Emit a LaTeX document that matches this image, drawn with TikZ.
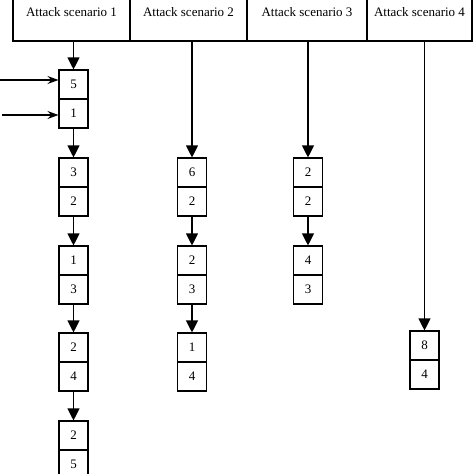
\documentclass[tikz,border=0pt]{standalone}
\usepackage{fontspec}
\setmainfont{Liberation Serif}
\usepackage{tikz}
\usetikzlibrary{arrows,arrows.meta,shapes,positioning}
\tikzstyle{head} = [rectangle, minimum height=58pt, text centered, draw, line width=1.1pt, inner sep=0pt]
\tikzstyle{cell} = [rectangle, minimum width=29pt, minimum height=29pt, text centered, draw, line width=1.1pt, inner sep=0pt]
\tikzstyle{arrow} = [line width=1.1pt,-{Triangle[length=12pt,width=12pt]}]
\tikzstyle{inarrow} = [line width=1.1pt,-{Stealth[length=11pt,width=8pt,inset=4pt]}]

\begin{document}
\begin{tikzpicture}[x=1pt,y=-1pt,font=\fontsize{13}{15}\selectfont]
\useasboundingbox (0,0) rectangle (474,474);
% scenario headers
\node[head, minimum width=117pt] (h1) at (71.5,12) {Attack scenario 1};
\node[head, minimum width=117pt] (h2) at (188.5,12) {Attack scenario 2};
\node[head, minimum width=120pt] (h3) at (307,12) {Attack scenario 3};
\node[head, minimum width=105pt] (h4) at (419.5,12) {Attack scenario 4};

% scenario 1
\node[cell] (a1) at (73.5,84.5) {5};
\node[cell] (b1) at (73.5,113.5) {1};
\node[cell] (a2) at (73.5,172.5) {3};
\node[cell] (b2) at (73.5,201.5) {2};
\node[cell] (a3) at (73.5,260.5) {1};
\node[cell] (b3) at (73.5,289.5) {3};
\node[cell] (a4) at (73.5,347.5) {2};
\node[cell] (b4) at (73.5,376.5) {4};
\node[cell] (a5) at (73.5,435.5) {2};
\node[cell] (b5) at (73.5,464.5) {5};

% scenario 2
\node[cell] (c2) at (192,172.5) {6};
\node[cell] (d2) at (192,201.5) {2};
\node[cell] (c3) at (192,260.5) {2};
\node[cell] (d3) at (192,289.5) {3};
\node[cell] (c4) at (192,347.5) {1};
\node[cell] (d4) at (192,376.5) {4};

% scenario 3
\node[cell] (e2) at (308,172.5) {2};
\node[cell] (f2) at (308,201.5) {2};
\node[cell] (e3) at (308,260.5) {4};
\node[cell] (f3) at (308,289.5) {3};

% scenario 4
\node[cell] (g4) at (424.5,345.5) {8};
\node[cell] (k4) at (424.5,374.5) {4};

% inputs
\coordinate (in1) at (0,80);
\coordinate (in2) at (2,115);
\draw[inarrow] (in1) -- (in1 -| a1.west);
\draw[inarrow] (in2) -- (in2 -| b1.west);

\draw[arrow] (h1.south -| a1) -- (a1);
\draw[arrow] (b1) -- (a2);
\draw[arrow] (b2) -- (a3);
\draw[arrow] (b3) -- (a4);
\draw[arrow] (b4) -- (a5);

\draw[arrow] (h2.south -| c2) -- (c2);
\draw[arrow] (d2) -- (c3);
\draw[arrow] (d3) -- (c4);

\draw[arrow] (h3.south -| e2) -- (e2);
\draw[arrow] (f2) -- (e3);

\draw[arrow] (h4.south -| g4) -- (g4);
\end{tikzpicture}
\end{document}
